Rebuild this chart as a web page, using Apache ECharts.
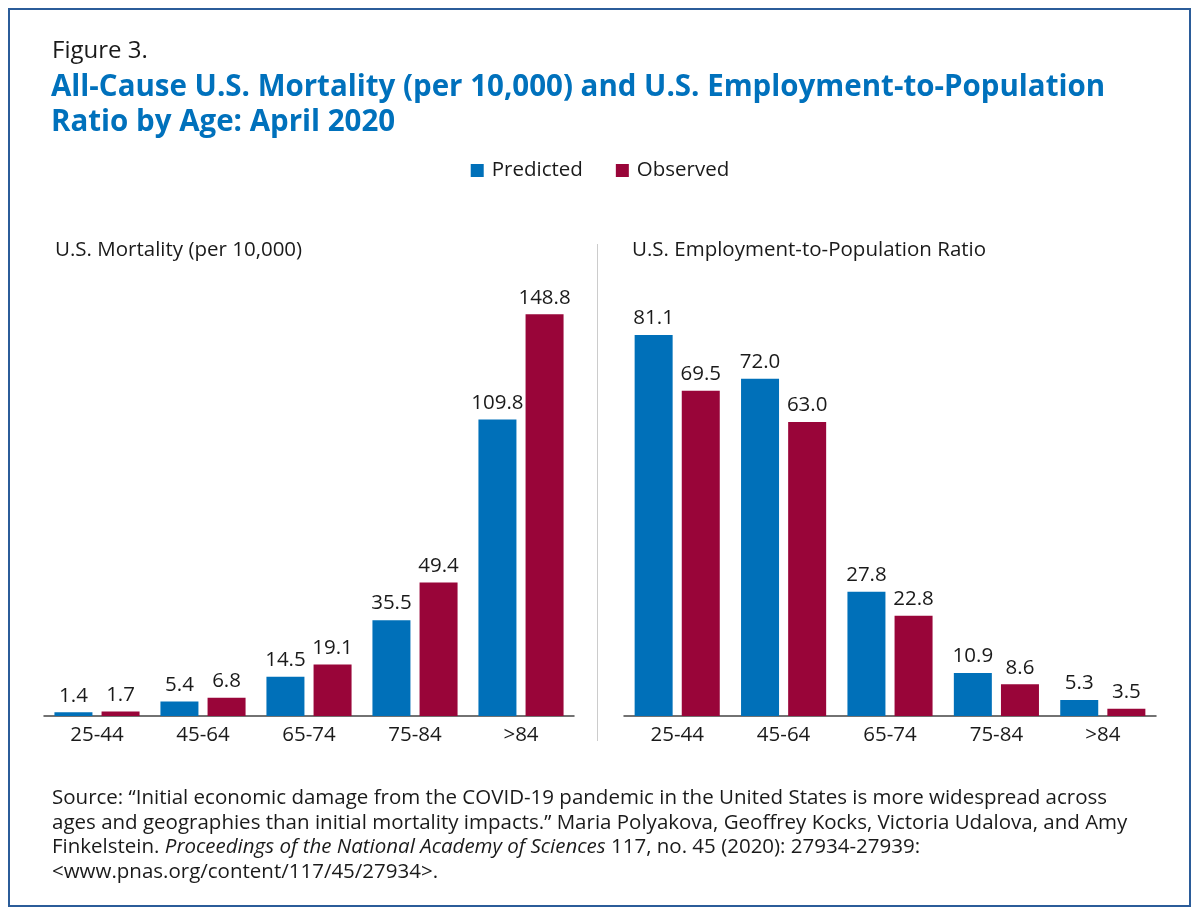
<!DOCTYPE html>
<html>
<head>
<meta charset="utf-8">
<style>
html,body{margin:0;padding:0;background:#fff;}
#chart{width:1200px;height:917px;}
</style>
<script src="https://cdn.jsdelivr.net/npm/echarts@6/dist/echarts.min.js"></script>
</head>
<body>
<div id="chart"></div>
<script>
const categories = ['25-44', '45-64', '65-74', '75-84', '>84'];
const mortalityPredicted = [1.4, 5.4, 14.5, 35.5, 109.8];
const mortalityObserved = [1.7, 6.8, 19.1, 49.4, 148.8];
const employmentPredicted = [81.1, 72.0, 27.8, 10.9, 5.3];
const employmentObserved = [69.5, 63.0, 22.8, 8.6, 3.5];
const seriesNames = ['Predicted', 'Observed'];

const BLUE = '#0070B9';
const RED = '#990539';
const FONT = '"Open Sans", sans-serif';
const TXT = '#1a1a1a';
const FS = 20.5;

const chart = echarts.init(document.getElementById('chart'));

function barSeries(name, data, idx, color) {
  return {
    name: name, type: 'bar', data: data,
    xAxisIndex: idx, yAxisIndex: idx,
    barWidth: 38, barGap: '24%',
    itemStyle: { color: color },
    label: {
      show: true, position: 'top', distance: 6,
      fontFamily: FONT, fontSize: FS, color: TXT,
      formatter: p => p.value.toFixed(1)
    }
  };
}

const axisX = (idx) => ({
  type: 'category', gridIndex: idx, data: categories,
  axisLine: { lineStyle: { color: '#444', width: 1.5 } },
  axisTick: { show: false },
  axisLabel: { fontFamily: FONT, fontSize: FS, color: TXT, margin: 9 }
});

chart.setOption({
  animation: false,
  textStyle: { fontFamily: FONT },
  title: [
    { text: 'Figure 3.', left: 47, top: 34, textStyle: { fontFamily: FONT, fontSize: 24, fontWeight: 'normal', color: TXT } },
    { text: 'All-Cause U.S. Mortality (per 10,000) and U.S. Employment-to-Population\nRatio by Age: April 2020', left: 46, top: 65,
      textStyle: { fontFamily: FONT, fontSize: 29.5, fontWeight: 'bold', color: '#0071BC', lineHeight: 35 } },
    { text: 'U.S. Mortality (per 10,000)', left: 50, top: 233, textStyle: { fontFamily: FONT, fontSize: FS, fontWeight: 'normal', color: TXT, lineHeight: 24 } },
    { text: 'U.S. Employment-to-Population Ratio', left: 627, top: 233, textStyle: { fontFamily: FONT, fontSize: FS, fontWeight: 'normal', color: TXT, lineHeight: 24 } },
    { text: '{n|Source: \u201cInitial economic damage from the COVID-19 pandemic in the United States is more widespread across}\n' +
            '{n|ages and geographies than initial mortality impacts.\u201d Maria Polyakova, Geoffrey Kocks, Victoria Udalova, and Amy}\n' +
            '{n|Finkelstein. }{i|Proceedings of the National Academy of Sciences}{n| 117, no. 45 (2020): 27934-27939:}\n' +
            '{n|<www.pnas.org/content/117/45/27934>.}',
      left: 47, top: 781,
      textStyle: { fontWeight: 'normal', rich: {
        n: { fontFamily: FONT, fontSize: FS, color: TXT, lineHeight: 24.5, fontWeight: 'normal' },
        i: { fontFamily: FONT, fontSize: FS, color: TXT, lineHeight: 24.5, fontStyle: 'italic', fontWeight: 'normal' }
      } } }
  ],
  legend: {
    data: seriesNames, top: 155, left: 'center',
    itemWidth: 13, itemHeight: 13, itemGap: 33,
    icon: 'rect',
    textStyle: { fontFamily: FONT, fontSize: FS, color: TXT, padding: [0, 0, 0, 3] }
  },
  grid: [
    { left: 44, width: 530, top: 284, height: 432 },
    { left: 624, width: 532, top: 292, height: 424 }
  ],
  xAxis: [axisX(0), axisX(1)],
  yAxis: [
    { type: 'value', gridIndex: 0, min: 0, max: 160, show: false },
    { type: 'value', gridIndex: 1, min: 2, max: 90, show: false }
  ],
  series: [
    barSeries(seriesNames[0], mortalityPredicted, 0, BLUE),
    barSeries(seriesNames[1], mortalityObserved, 0, RED),
    barSeries(seriesNames[0], employmentPredicted, 1, BLUE),
    barSeries(seriesNames[1], employmentObserved, 1, RED)
  ],
  graphic: [
    { type: 'rect', shape: { x: 9, y: 9, width: 1181, height: 897 }, style: { fill: 'none', stroke: '#2B5C99', lineWidth: 2 } },
    { type: 'line', shape: { x1: 597.5, y1: 244, x2: 597.5, y2: 741 }, style: { stroke: '#cccccc', lineWidth: 1 } }
  ]
});
</script>
</body>
</html>
